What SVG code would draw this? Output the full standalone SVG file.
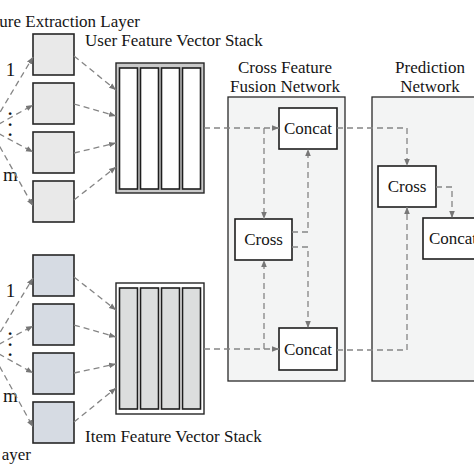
<svg xmlns="http://www.w3.org/2000/svg" width="474" height="474" viewBox="0 0 474 474">
<defs>
<style>
text{font-family:"Liberation Serif","Times New Roman",serif;font-size:17px;fill:#151515}
.lbl{text-anchor:middle}
.idx{text-anchor:middle;font-size:19px}
.dot{text-anchor:middle;font-size:17px;font-weight:bold}
.ubox{fill:#e9e9e9;stroke:#262626;stroke-width:1.6}
.ibox{fill:#d6dbe3;stroke:#262626;stroke-width:1.6}
.node{fill:#fff;stroke:#1e1e1e;stroke-width:1.6}
.frame{fill:#f3f4f4;stroke:#2a2a2a;stroke-width:1.3}
.col{stroke:#1e1e1e;stroke-width:1.6}
.dash{fill:none;stroke:#858585;stroke-width:1.3;stroke-dasharray:6 4}
.arr{marker-end:url(#ah)}
</style>
<marker id="ah" viewBox="0 0 10 10" refX="10" refY="5" markerWidth="7" markerHeight="7" markerUnits="userSpaceOnUse" orient="auto">
<path d="M0,1 L10,5 L0,9 z" fill="#777"/>
</marker>
</defs>
<rect width="474" height="474" fill="#fff"/>

<text x="140" y="27" text-anchor="end">Feature Extraction Layer</text>
<text x="31" y="460" text-anchor="end">ayer</text>

<g id="user-index">
<text x="10.5" y="76" class="idx">1</text>
<text x="10" class="dot"><tspan x="10" y="115">.</tspan><tspan x="10" y="126">.</tspan><tspan x="10" y="136">.</tspan></text>
<text x="10.5" y="181" class="idx">m</text>
</g>
<g id="item-index">
<text x="10.5" y="297" class="idx">1</text>
<text x="10" class="dot"><tspan x="10" y="335">.</tspan><tspan x="10" y="346">.</tspan><tspan x="10" y="356">.</tspan></text>
<text x="10.5" y="402" class="idx">m</text>
</g>

<g id="user-features">
<rect class="ubox" x="33" y="34" width="41" height="41"/>
<rect class="ubox" x="33" y="83" width="41" height="41"/>
<rect class="ubox" x="33" y="132" width="41" height="41"/>
<rect class="ubox" x="33" y="181" width="41" height="41"/>
</g>
<g id="item-features">
<rect class="ibox" x="33" y="255" width="41" height="41"/>
<rect class="ibox" x="33" y="304" width="41" height="41"/>
<rect class="ibox" x="33" y="353" width="41" height="41"/>
<rect class="ibox" x="33" y="402" width="41" height="41"/>
</g>

<g id="user-stack">
<rect x="116" y="63" width="88" height="130" fill="#c9c9c9" stroke="#262626" stroke-width="1.4"/>
<rect class="col" x="119.5" y="68" width="18" height="121" fill="#fff"/>
<rect class="col" x="140.5" y="68" width="18" height="121" fill="#fff"/>
<rect class="col" x="161.5" y="68" width="18" height="121" fill="#fff"/>
<rect class="col" x="182.5" y="68" width="18" height="121" fill="#fff"/>
<text x="85" y="46">User Feature Vector Stack</text>
</g>
<g id="item-stack">
<rect x="116" y="283" width="88" height="131" fill="#fff" stroke="#262626" stroke-width="1.4"/>
<rect class="col" x="119.5" y="288" width="18" height="121" fill="#dcdede"/>
<rect class="col" x="140.5" y="288" width="18" height="121" fill="#dcdede"/>
<rect class="col" x="161.5" y="288" width="18" height="121" fill="#dcdede"/>
<rect class="col" x="182.5" y="288" width="18" height="121" fill="#dcdede"/>
<text x="85" y="442">Item Feature Vector Stack</text>
</g>

<g id="fusion-network">
<rect class="frame" x="228" y="97" width="117" height="284"/>
<text x="285" y="73" class="lbl">Cross Feature</text>
<text x="285" y="92" class="lbl">Fusion Network</text>
</g>
<g id="prediction-network">
<rect class="frame" x="372" y="97" width="120" height="284"/>
<text x="430" y="73" class="lbl">Prediction</text>
<text x="430" y="92" class="lbl">Network</text>
</g>

<g id="concat-top">
<rect class="node" x="279" y="108" width="58" height="41"/>
<text x="308" y="134" class="lbl">Concat</text>
</g>
<g id="cross-fusion">
<rect class="node" x="235" y="219" width="57" height="41"/>
<text x="263.5" y="245" class="lbl">Cross</text>
</g>
<g id="concat-bottom">
<rect class="node" x="279" y="328" width="58" height="42"/>
<text x="308" y="355" class="lbl">Concat</text>
</g>
<g id="cross-pred">
<rect class="node" x="378" y="166" width="58" height="41"/>
<text x="407" y="192" class="lbl">Cross</text>
</g>
<g id="concat-pred">
<rect class="node" x="423" y="218" width="60" height="41"/>
<text x="453" y="244" class="lbl">Concat</text>
</g>

<g id="connectors">
<path class="dash arr" d="M-10,129 L33,57"/>
<path class="dash arr" d="M-10,129 L33,105"/>
<path class="dash arr" d="M-10,129 L33,152"/>
<path class="dash arr" d="M-10,129 L33,206"/>
<path class="dash arr" d="M-10,349 L33,278"/>
<path class="dash arr" d="M-10,349 L33,326"/>
<path class="dash arr" d="M-10,349 L33,373"/>
<path class="dash arr" d="M-10,349 L33,427"/>

<path class="dash arr" d="M74,56 L116,90"/>
<path class="dash arr" d="M74,104 L116,116"/>
<path class="dash arr" d="M74,153 L116,143"/>
<path class="dash arr" d="M74,200 L116,167"/>
<path class="dash arr" d="M74,277 L116,310"/>
<path class="dash arr" d="M74,325 L116,337"/>
<path class="dash arr" d="M74,373 L116,364"/>
<path class="dash arr" d="M74,422 L116,388"/>

<path class="dash arr" d="M204,128 L279,128"/>
<path class="dash arr" d="M264,128 L264,219"/>
<path class="dash arr" d="M204,349 L279,349"/>
<path class="dash arr" d="M264,349 L264,260"/>
<path class="dash arr" d="M292,232 L308,232 L308,149"/>
<path class="dash arr" d="M292,247 L308,247 L308,328"/>
<path class="dash arr" d="M337,128 L407,128 L407,166"/>
<path class="dash arr" d="M337,350 L407,350 L407,207"/>
<path class="dash arr" d="M436,187 L452,187 L452,218"/>
</g>
</svg>
